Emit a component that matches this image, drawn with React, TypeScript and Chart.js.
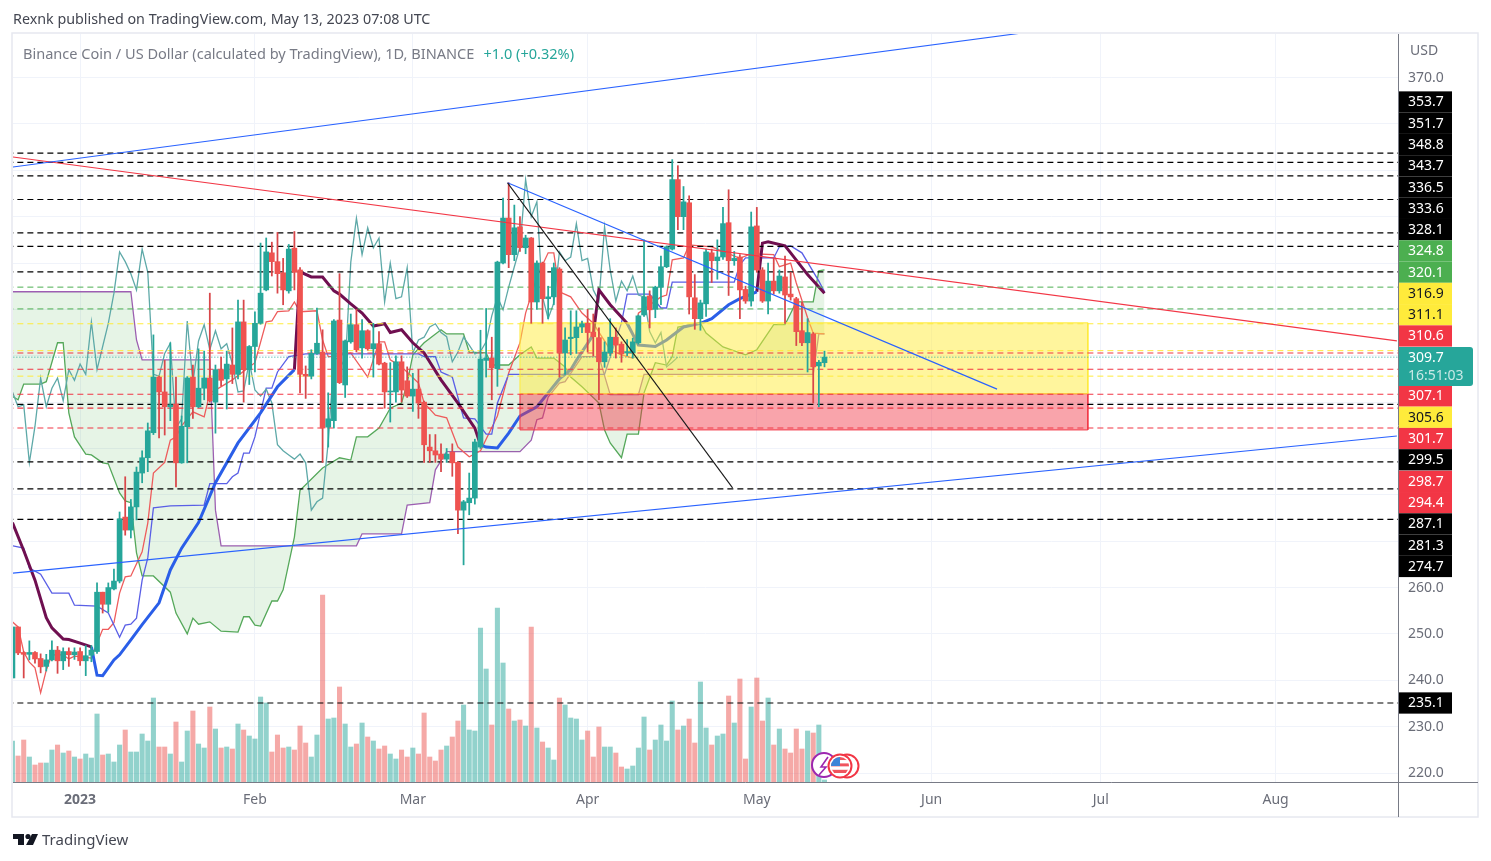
import React, { useEffect, useRef } from "react";
import { Chart, registerables } from "chart.js";

Chart.register(...registerables);

// Days are counted from 1 Jan 2023; the first candle is 12 days before that.
const firstDay = -12;
const monthDays = [0, 31, 59, 90, 120, 151, 181, 212];
const monthLabels = ["2023", "Feb", "Mar", "Apr", "May", "Jun", "Jul", "Aug"];
const shownPriceTicks = [370, 260, 250, 240, 230, 220];

const opens = [240.5,251.5,246,245.6,246,244.7,243,244.4,246.5,244.2,246.2,245.5,246.2,244.2,245.4,246.2,259,256.4,259.7,261.4,275.2,272.4,277.4,284.7,288,293.4,305.4,302.2,299,299.6,286.9,294.7,305.4,299,303,305.2,300,307,305,308,306,317.3,307,312,317,324.2,332.2,330.3,327.9,324,333.2,328.5,306,305.6,310.5,310.8,294.6,296,317.7,303.7,313,316.7,311.7,315.4,311.5,312.6,308.4,302.2,302.2,308.7,304.6,301.3,302.8,300,290.3,289.5,288.8,287.7,289.2,287,276.7,278.3,279.3,290.3,309,309.5,307.2,330,339.7,331.8,337.8,333.3,335.4,321.6,330,322.3,322.7,328.7,310.6,313.7,313.9,316.2,317,315.1,313.9,308.7,310.6,314,312.5,310.6,310.6,312.8,318.8,322.9,320,324.8,329.2,333,348,340,343,322.5,318,321.2,332.2,330.5,331.3,338.7,330.5,331.3,324.3,321.8,338,328.5,321.8,326.1,324,327,323.3,322.3,315.4,312.8,314.7,307.8,308.5];
const highs = [251.5,251.5,246.2,248.5,246.2,245.7,245.6,248.5,247.3,247,247,247,247,247.5,247.5,261,259,261,264,276.3,283.9,279,286,289.5,295.5,314.5,305.6,309,312.8,305.4,297,305.5,308,311.5,311,323.5,308,309.7,311,316,322,322,312.2,319.5,334.3,335.4,334.5,336.6,331,334,336.8,329,307.8,311.3,320.3,315.6,302,317.8,327.7,313.4,319,320,317.8,315.6,317,315.2,308.6,308.5,310,310,307.6,306.2,307,300.2,293,293,291,290,291,287.2,278.8,284.7,292,315.5,320.2,314,330.4,344,347.3,342.5,340,336,335.5,330.5,330.2,325,330,329,316,319.7,319.7,317.5,320,319,316,313,318,316,313,313.5,313.8,318.8,335,324,325,331.5,333.7,352.3,351,346.5,344.5,327.5,322,333,333,335,342,345.8,332.5,331.8,325,341,342,329,330,331,328.5,331.5,328,322.6,321.5,318,315,309,311];
const lows = [240.5,245.5,240.5,244.4,243.7,241.6,242,244.2,241.5,242.3,243,244.5,243.2,241,244,245.8,254.5,254.7,259.5,261,271.3,270.7,274.6,282.6,285,293,292.3,292.9,296,281.7,286.8,286.9,296.5,298.8,300.5,300,293.3,303.5,298.5,304,305,300,303.8,306.5,316.8,324,327.2,323.5,321,323.5,324.2,302,300.8,305,310.3,287,290.3,294.4,304,301,312.7,310.8,309.5,311.2,305.4,308,298.7,295.7,300,300,301,298,296.5,287,287,287,285,287,284,271.6,264.9,275.7,278,290,305.4,300.5,303.4,329.8,329,330.5,332.5,332,317,320,317,318,321,305.4,306,310.2,310.5,315,310.8,310,300.5,307.5,310,309.5,308.6,310,309.5,312.5,318.5,316,318.2,321,329,332.8,337.2,337.2,319,315.7,315.5,318.5,325.8,326.5,330.8,323,329.5,318,321.3,320.7,328,321.5,319,323.3,323.5,317,322,312.2,312.2,306.5,299.8,299,307.6];
const closes = [251.5,245.9,245.6,246,244.6,242.9,244.4,246.5,244.2,246.2,245.5,246.1,244.2,245.3,246.5,259,256.4,260,261.4,274.8,272.4,277.4,284.9,288,293.8,305.4,302.2,299,299.4,286.9,294.8,305.2,299,303,305.2,300.3,307,304.7,308.2,306,317.3,307,312,317,323.5,332.4,330.3,327.7,324.2,333,328,306,305.6,310.5,312.7,294.4,296.4,317.5,304.2,313.2,316.7,311.3,315.4,311.5,312.6,308.2,302.2,302.4,308.7,302.6,301.3,302.8,299.8,290.8,289.5,288.6,287.7,288.8,286.9,276.7,278.5,279.3,291.4,309.3,309.5,307.4,330.2,339.7,331.8,337.6,333.3,335.4,321.6,330,322.3,322.7,329,310.6,313.4,314,316.2,316.9,315,314.1,308.7,310.8,314,312.3,310.4,310.9,313,318.6,322.7,319.9,324.8,329.2,333.5,348,340,343.2,322.7,318,321.4,332.4,330.5,331.3,338.5,330.5,331,324.2,321.8,337.8,328.5,321.8,326.1,324,327.2,323.1,322.7,315.2,312.8,315,307.6,308.6,309.7];
const volumes = [41,26,42,25,17,19,19,32,37,29,31,25,23,28,24,68,27,28,20,37,52,30,30,48,41,84,35,35,28,60,20,51,71,38,34,75,53,34,35,33,58,52,46,43,85,79,30,47,34,35,32,56,39,25,47,187,63,64,95,58,35,38,59,45,41,33,36,28,23,32,25,34,28,69,25,21,32,36,45,61,77,52,51,154,113,57,174,119,73,61,62,56,155,54,40,34,22,84,77,64,63,42,51,25,55,35,35,29,15,13,16,34,65,32,42,57,41,81,52,56,63,39,100,54,37,46,48,86,59,103,23,75,104,61,84,37,53,33,29,53,33,51,49,57,2];

const laggingSpan = [302.2,299,299.4,286.9,294.8,305.2,299,303,305.2,300.3,307,304.7,308.2,306,317.3,307,312,317,323.5,332.4,330.3,327.7,324.2,333,328,306,305.6,310.5,312.7,294.4,296.4,317.5,304.2,313.2,316.7,311.3,315.4,311.5,312.6,308.2,302.2,302.4,308.7,302.6,301.3,302.8,299.8,290.8,289.5,288.6,287.7,288.8,286.9,276.7,278.5,279.3,291.4,309.3,309.5,307.4,330.2,339.7,331.8,337.6,333.3,335.4,321.6,330,322.3,322.7,329,310.6,313.4,314,316.2,316.9,315,314.1,308.7,310.8,314,312.3,310.4,310.9,313,318.6,322.7,319.9,324.8,329.2,333.5,348,340,343.2,322.7,318,321.4,332.4,330.5,331.3,338.5,330.5,331,324.2,321.8,337.8,328.5,321.8,326.1,324,327.2,323.1,322.7,315.2,312.8,315,307.6,308.6,309.7];

const baseDays = [-12,-10,-9,-7,-5,-2,-1,3,5,7,8,9,10,11,12,13,16,22,23,26,27,28,29,30,31,33,34,35,37,40,60,61,63,64,66,68,70,72,73,74,76,93,96,97,101,103,104,105,116,117,118,123,124,126,128,131,132];
const baseVals = [269,268.5,264.2,262.9,258.8,258.8,256.2,256,254.5,249.3,251.9,252.1,253.4,261.6,266.4,277.2,277.6,277.8,282.4,282.4,283.9,284.7,289,289,292.5,303,303,306.5,309.8,310.4,310.4,309.8,309.8,306.5,305.4,296.6,296.4,293.1,293.1,299.8,306,306,317.1,323.3,323.3,320.3,320.3,325.9,325.9,329.6,331.1,331.1,333.5,333.7,332.2,326.1,323.8];

const convDays = [-12,-11,-10,-9,-8,-7,-6,-5,-3,-2,-1,2,3,4,5,6,7,8,9,11,12,13,15,16,17,18,20,22,23,24,27,31,33,34,35,37,38,39,42,43,44,45,48,51,53,54,55,57,60,61,63,65,67,69,71,74,76,78,79,81,83,84,85,87,89,91,92,94,96,98,99,103,104,105,107,108,112,117,119,123,124,126,127,129,130,132];
const convVals = [252.6,251.5,246.1,243.9,242.7,237.3,242.2,245.5,245.5,244.6,245.2,244.8,248,251,251,252.4,258.8,262.3,262.5,267.7,273.9,284.7,287,291.8,292.5,294.9,297.9,296.8,302,302.6,304.8,308.5,317.3,317.5,319.5,319.7,321.6,319.5,319.7,313.4,309.8,309.8,310.6,305.4,313,313,309.1,307.6,304.1,299.8,297.2,296.6,290.3,288.2,289.5,297,306.3,312.8,319.2,327,332.2,332.2,323.8,322.7,319.2,317,315.1,311.3,310.2,309.5,319.2,322.7,323.1,330.7,331.1,333.9,333.5,331,332,331.8,329.2,330,325.7,318.2,314.9,314.7];

const spanADays = [-12,-11,-10,-7,-6,-4,-3,-2,-1,1,2,4,5,7,8,9,10,11,13,16,17,19,20,21,23,25,28,29,30,31,32,34,35,36,38,39,43,46,48,49,51,53,55,57,58,59,61,64,65,68,69,72,73,76,78,80,81,84,86,87,89,92,93,94,96,97,99,100,102,104,105,106,110,111,114,118,120,123,125,127,130,131,132];
const spanAVals = [301.2,300.5,303.9,303.9,304.4,312.8,312.8,297.7,292.5,288.8,288.6,286.9,286.7,280.4,278.7,278.3,267.5,262.5,262.5,259,254.5,250,253.4,252.1,252.6,250.6,250.4,253.7,253.7,251.9,251.7,257.1,257.1,259.5,270.9,281,285.8,288,287.5,292.5,292.5,294.4,298.7,299.8,304.1,310.2,312.8,315.6,314.7,314.7,310.8,310.6,308,308,310.2,311.9,309.5,309.5,307.6,305.4,303.3,299.8,294,291.2,288,293.1,293.1,302,308.5,308,309.8,316.2,317,314.9,311.9,310.2,311.3,316.7,316.7,321.6,321.6,328.3,328.5];

const spanBDays = [-12,9,10,11,23,24,25,49,50,57,58,62,63,65,78,80,81,82,83,85,86,89,92,94,99,100,130,131,132];
const spanBVals = [323.8,323.8,313.4,309.1,309.1,276.7,269,269,271.6,271.6,277.8,278.3,285.4,289.3,289.3,291.8,296.2,296.6,301.1,304.1,304.4,309.8,309.8,301.6,301.6,306,306,314.7,314.7];

const maroonDaysA = [-12,-10,-8,-6,-5,-3,-2,0,2];
const maroonValsA = [274,268,261.6,253.5,251.3,248.9,248.8,248,247.2];
const blueDaysA = [2,3,4,6,7,9,11,14,16,18,21,24,28,32,35,38];
const blueValsA = [247.2,241.1,241,244.4,245.5,248.7,252,256.7,263.8,268.5,274,282.6,291.2,297.7,303.3,307];
const maroonDaysB = [38,39,41,43,45,46,48,50,52,54,55,57,59,61,64,67,70,71];
const maroonValsB = [307,328.1,327,327,324,323.3,321.2,319.2,316.4,316.9,315,315.6,312.8,310.6,304.8,299.8,294.4,290.8];
const blueDaysB = [71,72,74,76,78,81,83,85,87,88,91];
const blueValsB = [290.8,290.3,290.1,293.3,297,299,302,305,307,309,314.5];
const maroonDaysC = [91,92,94,97];
const maroonValsC = [314.5,324.2,321,317];
const blueDaysC = [97,99,102,104,107,110,112,115,117,120];
const blueValsC = [317,312.3,312,313.4,316.2,317,318,321,322.3,323.8];
const maroonDaysD = [120,121,122,125,126,129,132];
const maroonValsD = [323.8,334.3,334.6,333.7,332.2,327.5,323.5];

const blackLevels = [353.7,351.7,348.8,343.7,336.5,333.6,328.1,299.5,287.1,281.3,274.7,235.1];
const greenLevels = [324.8,320.1];
const yellowLevels = [316.9,311.1,305.6];
const redLevels = [310.6,307.1,301.7,298.7,294.4];
const lastPrice = 309.7;

const tagsUpper = ["353.7","351.7","348.8","343.7","336.5","333.6","328.1","324.8","320.1","316.9","311.1","310.6"];
const tagsUpperKind = ["k","k","k","k","k","k","k","g","g","y","y","r"];
const tagsLower = ["307.1","305.6","301.7","299.5","298.7","294.4","287.1","281.3","274.7"];
const tagsLowerKind = ["r","y","r","k","r","r","k","k","k"];

const C = { up: "#26a69a", down: "#ef5350", black: "#000000", green: "#4caf50", yellow: "#ffeb3b", red: "#f23645", grid: "#f0f3fa", axis: "#787b86", label: "#6a6d78", frame: "#e6e8ef" };
const xMin = -11.9, xMax = 233.7, yMin = 218.06, yMax = 379.4;
const rectLeft = 78, rectRight = 178.7, rectTop = 317.1, rectMid = 301.8, rectBottom = 294;

const pts = (xs: number[], ys: number[]) => xs.map((x, i) => ({ x, y: ys[i] }));
const line = (label: string, data: any[], color: string, width: number, order: number, extra: any = {}) => ({
  type: "line", label, data, borderColor: color, borderWidth: width, pointRadius: 0, tension: 0, order, fill: false, ...extra,
});
const bars = (label: string, data: any[], color: string, thickness: number, order: number, yAxisID = "y") => ({
  type: "bar", label, data, backgroundColor: color, barThickness: thickness, order, grouped: false, yAxisID, borderWidth: 0,
});

function buildDatasets() {
  const day = (i: number) => firstDay + i;
  const upIdx = closes.map((_, i) => i).filter((i) => closes[i] >= opens[i]);
  const dnIdx = closes.map((_, i) => i).filter((i) => closes[i] < opens[i]);
  const body = (idx: number[]) => idx.map((i) => ({ x: day(i), y: [opens[i], closes[i]] }));
  const wick = (idx: number[]) => idx.map((i) => ({ x: day(i), y: [lows[i], highs[i]] }));
  const vol = (idx: number[]) => idx.map((i) => ({ x: day(i), y: volumes[i] }));
  const hl = (v: number) => [{ x: xMin - 1, y: v }, { x: xMax + 1, y: v }];
  const ds: any[] = [];

  ds.push(line("Trend black", [{ x: 75.8, y: 347.3 }, { x: 115.7, y: 281.5 }], "#1a1a1a", 1.1, 1));
  ds.push(line("Trend blue diag", [{ x: 75.8, y: 347.3 }, { x: 162.6, y: 302.8 }], "#2962ff", 1.1, 1));
  ds.push(line("Trend blue upper", [{ x: -12, y: 350.7 }, { x: 170, y: 380.1 }], "#2962ff", 1.1, 1));
  ds.push(line("Trend red", [{ x: -12, y: 352.9 }, { x: 233.5, y: 313.2 }], "#f23645", 1.1, 1));
  ds.push(line("Trend blue lower", [{ x: -12, y: 263.1 }, { x: 233.5, y: 292.7 }], "#2962ff", 1.1, 1));

  ds.push(bars("Up body", body(upIdx), C.up, 5, 2));
  ds.push(bars("Down body", body(dnIdx), C.down, 5, 2));
  ds.push(bars("Up wick", wick(upIdx), C.up, 1.1, 3));
  ds.push(bars("Down wick", wick(dnIdx), "#d8474a", 1.1, 3));

  const dash = [6, 4];
  blackLevels.forEach((v) => ds.push(line("L" + v, hl(v), "#000000", 1.2, 4, { borderDash: dash })));
  greenLevels.forEach((v) => ds.push(line("L" + v, hl(v), C.green, 1, 4, { borderDash: dash })));
  redLevels.forEach((v) => ds.push(line("L" + v, hl(v), C.red, 1.1, 4, { borderDash: dash })));
  yellowLevels.forEach((v) => ds.push(line("L" + v, hl(v), C.yellow, 1, 4, { borderDash: dash })));
  ds.push(line("Last", hl(lastPrice), C.up, 1, 4, { borderDash: [1, 2] }));

  const box = (a: number, b: number) => [
    { x: rectLeft, y: a }, { x: rectRight, y: a }, { x: rectRight, y: b }, { x: rectLeft, y: b }, { x: rectLeft, y: a },
  ];
  ds.push(line("Yellow box edge", box(rectTop, rectMid), C.yellow, 1, 5));
  ds.push(line("Red box edge", box(rectMid, rectBottom), C.red, 1, 5));
  const span = (v: number) => [{ x: rectLeft, y: v }, { x: rectRight, y: v }];
  ds.push(line("Yellow top", span(rectTop), "transparent", 0, 6, { fill: "+1", backgroundColor: "rgba(255,235,59,0.5)" }));
  ds.push(line("Yellow bottom", span(rectMid), "transparent", 0, 6));
  ds.push(line("Red top", span(rectMid), "transparent", 0, 6, { fill: "+1", backgroundColor: "rgba(242,54,69,0.45)" }));
  ds.push(line("Red bottom", span(rectBottom), "transparent", 0, 6));

  const thickMaroon = "#6f0f50", thickBlue = "#2a5ee8";
  ds.push(line("MA a", pts(maroonDaysA, maroonValsA), thickMaroon, 3, 7));
  ds.push(line("MA b", pts(blueDaysA, blueValsA), thickBlue, 3, 7));
  ds.push(line("MA c", pts(maroonDaysB, maroonValsB), thickMaroon, 3, 7));
  ds.push(line("MA d", pts(blueDaysB, blueValsB), thickBlue, 3, 7));
  ds.push(line("MA e", pts(maroonDaysC, maroonValsC), thickMaroon, 3, 7));
  ds.push(line("MA f", pts(blueDaysC, blueValsC), thickBlue, 3, 7));
  ds.push(line("MA g", pts(maroonDaysD, maroonValsD), thickMaroon, 3, 7));

  ds.push(line("Lagging", laggingSpan.map((y, i) => ({ x: day(i), y })), "#5ea9a8", 1.3, 8));
  ds.push(line("Base", pts(baseDays, baseVals), "#5a5fe6", 1.3, 8));
  ds.push(line("Conversion", pts(convDays, convVals), "#ee5c5c", 1.3, 8));

  const spanBIndex = ds.length + 1;
  ds.push(line("Span A", pts(spanADays, spanAVals), "#55a85a", 1.3, 9, {
    fill: { target: spanBIndex, above: "rgba(76,175,80,0.14)", below: "rgba(76,175,80,0.14)" },
  }));
  ds.push(line("Span B", pts(spanBDays, spanBVals), "#a25bb8", 1.3, 9));

  ds.push(bars("Up volume", vol(upIdx), "rgba(38,166,154,0.5)", 4.4, 10, "v"));
  ds.push(bars("Down volume", vol(dnIdx), "rgba(235,83,80,0.5)", 4.4, 10, "v"));
  return ds;
}

const tagFill = (k: string) => (k === "k" ? C.black : k === "g" ? C.green : k === "y" ? C.yellow : C.red);

const overlay = {
  id: "overlay",
  afterDraw(chart: any) {
    const ctx: CanvasRenderingContext2D = chart.ctx;
    const { left, right, top, bottom } = chart.chartArea;
    const outerRight = 1478, outerBottom = 817;
    ctx.save();

    ctx.strokeStyle = C.frame;
    ctx.lineWidth = 1.5;
    ctx.strokeRect(left - 1, top - 1, outerRight - left + 1, outerBottom - top + 1);
    ctx.strokeStyle = C.axis;
    ctx.lineWidth = 1;
    ctx.beginPath();
    ctx.moveTo(right + 0.5, top);
    ctx.lineTo(right + 0.5, outerBottom);
    ctx.moveTo(left, bottom + 0.5);
    ctx.lineTo(outerRight, bottom + 0.5);
    ctx.stroke();

    // currency
    const tagLeft = right + 1, tagW = 53, rowH = 21.27;
    const font = '14px "Noto Sans", sans-serif';
    ctx.font = font;
    ctx.textBaseline = "middle";
    ctx.fillStyle = C.label;
    ctx.fillText("USD", right + 12, 51);

    const tag = (text: string, kind: string, cy: number) => {
      ctx.fillStyle = tagFill(kind);
      ctx.fillRect(tagLeft, cy - rowH / 2, tagW, rowH);
      ctx.fillStyle = kind === "y" ? "#131722" : "#ffffff";
      ctx.font = font;
      ctx.fillText(text, tagLeft + 9, cy + 0.5);
    };
    tagsUpper.forEach((t, i) => tag(t, tagsUpperKind[i], 102 + i * rowH));
    tagsLower.forEach((t, i) => tag(t, tagsLowerKind[i], 396 + i * rowH + (i > 3 ? 0.3 : 0)));
    tag("235.1", "k", chart.scales.y.getPixelForValue(235.1));

    ctx.fillStyle = C.up;
    ctx.beginPath();
    ctx.roundRect(tagLeft, 347, 74, 39, [0, 3, 3, 0]);
    ctx.fill();
    ctx.fillStyle = "#ffffff";
    ctx.fillText(lastPrice.toFixed(1), tagLeft + 9, 358);
    ctx.fillStyle = "rgba(255,255,255,0.75)";
    ctx.fillText("16:51:03", tagLeft + 9, 376.5);

    // event badges
    const ring = (x: number, y: number, r: number, color: string) => {
      ctx.beginPath();
      ctx.arc(x, y, r, 0, Math.PI * 2);
      ctx.fillStyle = "#ffffff";
      ctx.fill();
      ctx.lineWidth = 2;
      ctx.strokeStyle = color;
      ctx.stroke();
    };
    ring(824, 765, 12, "#9c27b0");
    ctx.strokeStyle = "#9c27b0";
    ctx.lineWidth = 1.6;
    ctx.beginPath();
    ctx.moveTo(828, 757);
    ctx.lineTo(821, 767);
    ctx.lineTo(826, 767);
    ctx.lineTo(819, 775);
    ctx.stroke();
    ring(847, 766, 11.5, "#f23645");
    ring(840, 766, 11.5, "#f23645");
    ctx.save();
    ctx.beginPath();
    ctx.arc(840, 766, 9, 0, Math.PI * 2);
    ctx.clip();
    for (let i = 0; i < 6; i++) {
      ctx.fillStyle = i % 2 ? "#ffffff" : "#f0545e";
      ctx.fillRect(830, 757 + i * 3.2, 20, 3.2);
    }
    ctx.fillStyle = "#3d85d8";
    ctx.fillRect(830, 756, 10, 10);
    ctx.restore();

    // logo mark
    ctx.fillStyle = "#131722";
    ctx.fillRect(13, 834, 11, 5);
    ctx.fillRect(18, 834, 6, 11);
    ctx.beginPath();
    ctx.arc(28, 836.5, 2.6, 0, Math.PI * 2);
    ctx.fill();
    ctx.beginPath();
    ctx.moveTo(32, 834);
    ctx.lineTo(38, 834);
    ctx.lineTo(33, 845);
    ctx.lineTo(26, 845);
    ctx.fill();
    ctx.restore();
  },
};

export default function App() {
  const ref = useRef<HTMLCanvasElement>(null);
  useEffect(() => {
    document.body.style.margin = "0";
    document.body.style.background = "#ffffff";
    const chart = new Chart(ref.current!, {
      type: "bar",
      data: { datasets: buildDatasets() as any },
      plugins: [overlay as any],
      options: {
        animation: false,
        responsive: false,
        devicePixelRatio: 1,
        events: [],
        layout: { padding: { left: 13, top: 34, bottom: 44, right: 0 } },
        plugins: { legend: { display: false }, tooltip: { enabled: false }, title: { display: false } },
        scales: {
          x: {
            type: "linear",
            offset: false,
            min: xMin,
            max: xMax,
            grid: { color: C.grid, drawTicks: false, offset: false },
            border: { display: false },
            afterBuildTicks: (scale: any) => { scale.ticks = monthDays.map((value) => ({ value })); },
            afterFit: (scale: any) => { scale.height = 35; },
            ticks: {
              autoSkip: false,
              maxRotation: 0,
              padding: 10,
              color: C.label,
              font: (c: any) => ({ family: '"Noto Sans", sans-serif', size: 14, weight: c.tick && c.tick.value === 0 ? "bold" : "normal" }),
              callback: (v: any) => monthLabels[monthDays.indexOf(Number(v))] ?? "",
            },
          },
          y: {
            position: "right",
            min: yMin,
            max: yMax,
            grid: { color: C.grid, drawTicks: false },
            border: { display: false },
            afterFit: (scale: any) => { scale.width = 93; },
            ticks: {
              stepSize: 10,
              includeBounds: false,
              autoSkip: false,
              padding: 10,
              color: C.label,
              font: { family: '"Noto Sans", sans-serif', size: 14 },
              callback: (v: any) => (shownPriceTicks.includes(Number(v)) ? Number(v).toFixed(1) : ""),
            },
          },
          v: { display: false, min: 0, max: 748 },
        },
      } as any,
    });
    return () => chart.destroy();
  }, []);

  const font = '"Noto Sans", sans-serif';
  return (
    <div style={{ position: "absolute", left: 0, top: 0, width: 1491, height: 861, background: "#fff", overflow: "hidden" }}>
      <canvas ref={ref} width={1491} height={861} style={{ display: "block" }} />
      <div style={{ position: "absolute", left: 13, top: 10, fontFamily: font, fontSize: 14.3, lineHeight: "18px", color: "#434651", whiteSpace: "nowrap" }}>
        Rexnk published on TradingView.com, May 13, 2023 07:08 UTC
      </div>
      <div style={{ position: "absolute", left: 23, top: 44, fontFamily: font, fontSize: 14.55, lineHeight: "19px", color: "#787b86", whiteSpace: "nowrap" }}>
        Binance Coin / US Dollar (calculated by TradingView), 1D, BINANCE
        <span style={{ color: "#26a69a", marginLeft: 9 }}>+1.0 (+0.32%)</span>
      </div>
      <div style={{ position: "absolute", left: 42, top: 829, fontFamily: font, fontSize: 15, lineHeight: "20px", color: "#434651", whiteSpace: "nowrap" }}>
        TradingView
      </div>
    </div>
  );
}
